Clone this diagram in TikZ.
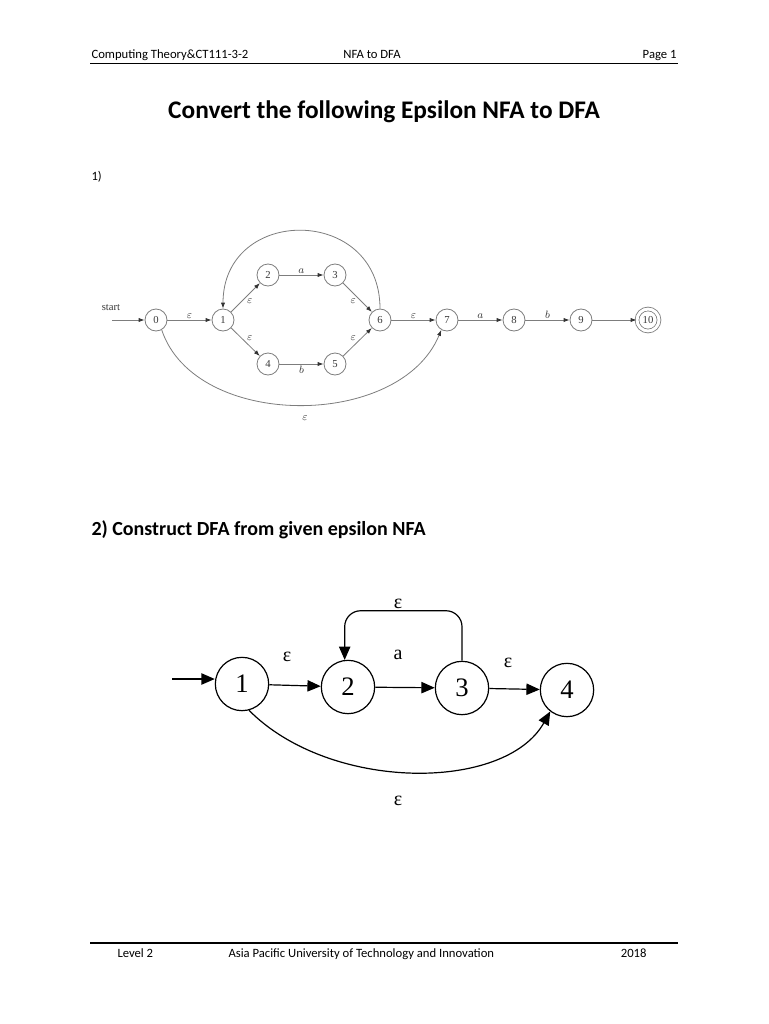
\documentclass[tikz,border=0pt]{standalone}
\usepackage{fontspec}
\setmainfont{Carlito}
\newfontfamily\tmsfont{Liberation Serif}
\usetikzlibrary{arrows.meta}

\definecolor{nfagray}{RGB}{125,125,125}
\definecolor{nfatext}{RGB}{55,55,55}

\tikzset{every picture/.style={line width=0.75pt}}
\tikzset{
  pagetext/.style={inner sep=0pt, font=\fontsize{9.5}{11}\selectfont},
  nstate/.style={circle, draw=nfagray, line width=0.6pt, minimum size=16.5pt, inner sep=0pt, text=nfatext, font=\tmsfont\fontsize{8}{9}\selectfont},
  nlabel/.style={inner sep=1pt, text=nfatext, font=\tmsfont\fontsize{8}{9}\selectfont},
  narr/.style={draw=nfagray, line width=0.6pt, -{Latex[length=4.5pt,width=3.2pt,black!80]}},
  dstate/.style={circle, draw=black, line width=0.9pt, minimum size=40pt, inner sep=0pt, font=\tmsfont\fontsize{20}{22}\selectfont},
  dlabel/.style={inner sep=1pt, font=\tmsfont\fontsize{15}{16}\selectfont},
  darr/.style={draw=black, line width=0.9pt, -{Triangle[length=10pt,width=8.5pt]}}
}

\begin{document}
\begin{tikzpicture}[x=0.75pt,y=0.75pt,yscale=-1,xscale=1]
\useasboundingbox (0,0) rectangle (768,1024);

% Header
\node [pagetext, anchor=base west] (hleft) at (91,59) {Computing Theory\&CT111-3-2};
\node [pagetext, anchor=base] (hmid) at (372,59) {NFA to DFA};
\node [pagetext, anchor=base east] (hright) at (677,59) {Page 1};
\draw [line width=0.8pt] (90,63.5) -- (678,63.5);

% Title
\node [inner sep=0pt, anchor=base, font=\fontsize{19}{22}\selectfont\bfseries] (title) at (384,118) {Convert the following Epsilon NFA to DFA};
\node [pagetext, anchor=base west] (one) at (91,180) {1)};

%Epsilon NFA states
\node [nstate] (q0) at (156,320) {0};
\node [nstate] (q1) at (223,320) {1};
\node [nstate] (q2) at (268,275) {2};
\node [nstate] (q3) at (335,275) {3};
\node [nstate] (q4) at (268,364) {4};
\node [nstate] (q5) at (335,364) {5};
\node [nstate] (q6) at (380,320) {6};
\node [nstate] (q7) at (447,320) {7};
\node [nstate] (q8) at (514,320) {8};
\node [nstate] (q9) at (581,320) {9};
\node [nstate, double, double distance=2.2pt] (q10) at (648,320) {10};
\node [nlabel, anchor=south west] (start) at (100,312) {start};
\coordinate (s0) at (112,320);

%Epsilon NFA transitions
\draw [narr] (s0) -- (q0);
\draw [narr] (q0) -- node [nlabel, above] {$\varepsilon$} (q1);
\draw [narr] (q1) -- node [nlabel, below right] {$\varepsilon$} (q2);
\draw [narr] (q1) -- node [nlabel, above right] {$\varepsilon$} (q4);
\draw [narr] (q2) -- node [nlabel, above] {$a$} (q3);
\draw [narr] (q4) -- node [nlabel, below] {$b$} (q5);
\draw [narr] (q3) -- node [nlabel, below left] {$\varepsilon$} (q6);
\draw [narr] (q5) -- node [nlabel, above left] {$\varepsilon$} (q6);
\draw [narr] (q6.north) .. controls (380,205) and (223,205) .. (q1.north);
\draw [narr] (q6) -- node [nlabel, above] {$\varepsilon$} (q7);
\draw [narr] (q7) -- node [nlabel, above] {$a$} (q8);
\draw [narr] (q8) -- node [nlabel, above] {$b$} (q9);
\draw [narr] (q9) -- (q10);
\draw [narr] (q0.-60) .. controls (195,430) and (400,430) .. (q7.240);
\node [nlabel] (epsbot) at (305,418) {$\varepsilon$};

% Section 2
\node [inner sep=0pt, anchor=base west, font=\fontsize{15}{18}\selectfont\bfseries] (two) at (91,535) {2) Construct DFA from given epsilon NFA};

%Second NFA states
\node [dstate] (d1) at (242,684) {1};
\node [dstate] (d2) at (348,687) {2};
\node [dstate] (d3) at (462,688) {3};
\node [dstate] (d4) at (567,690) {4};
\coordinate (s1) at (172,679);

%Second NFA transitions
\draw [darr] (s1) -- (s1 -| d1.west);
\draw [darr] (d1) -- (d2);
\draw [darr] (d2) -- (d3);
\draw [darr] (d3) -- (d4);
\draw [darr, rounded corners=12] (d3.north) -- ++(0,-50) -| (d2.97);
\draw [darr] (d1.-75) .. controls (330,792) and (505,792) .. (d4.232);
\node [dlabel] (e12) at (287,657) {ε};
\node [dlabel] (a23) at (398,655) {a};
\node [dlabel] (e34) at (508,663) {ε};
\node [dlabel] (e32) at (398,604) {ε};
\node [dlabel] (e14) at (398,801) {ε};

% Footer
\draw [line width=0.8pt] (90,943) -- (678,943);
\node [pagetext, anchor=base west] (fleft) at (117,957) {Level 2};
\node [pagetext, anchor=base west] (fmid) at (228,957) {Asia Pacific University of Technology and Innovation};
\node [pagetext, anchor=base east] (fright) at (647,957) {2018};

\end{tikzpicture}
\end{document}
